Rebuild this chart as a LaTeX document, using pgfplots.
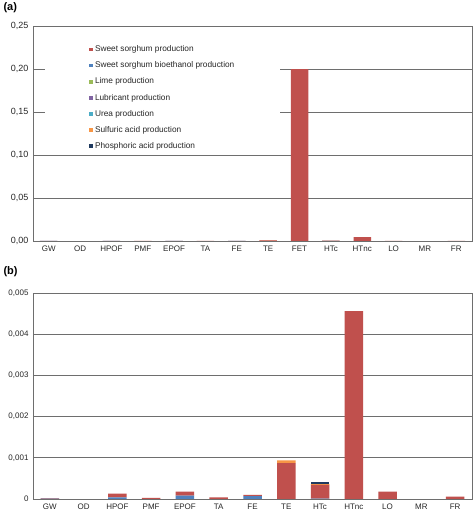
\documentclass[border=0pt]{standalone}
\usepackage{pgfplots}
\pgfplotsset{compat=1.18}
\usepackage{pgfplotstable}
\usepackage{fontspec}
\setmainfont{Liberation Sans}
\definecolor{cSor}{HTML}{C0504D}
\definecolor{cEth}{HTML}{4F81BD}
\definecolor{cLim}{HTML}{9BBB59}
\definecolor{cLub}{HTML}{8064A2}
\definecolor{cUre}{HTML}{4BACC6}
\definecolor{cSul}{HTML}{F79646}
\definecolor{cPho}{HTML}{1F3A5F}
\definecolor{gridc}{HTML}{6E6E6E}

% panel (a): GW OD HPOF PMF EPOF TA FE TE FET HTc HTnc LO MR FR
\pgfplotstableread{
x  eth      sor      lim      lub  ure  sul      pho
0  0.00001  0.00001  0        0    0    0        0
1  0        0        0        0    0    0        0
2  0.00004  0.00009  0        0    0    0        0
3  0        0.00003  0        0    0    0        0
4  0.00008  0.00010  0        0    0    0        0
5  0        0.00004  0        0    0    0        0
6  0.00008  0.00002  0        0    0    0        0
7  0        0.00087  0        0    0    0.00007  0
8  0        0.20000  0        0    0    0        0
9  0.00001  0.00033  0        0    0    0.00002  0.00005
10 0        0.00456  0        0    0    0        0
11 0        0.00018  0        0    0    0        0
12 0        0        0        0    0    0        0
13 0        0.00006  0        0    0    0        0
}\dataA
% panel (b): GW OD HPOF PMF EPOF TA FE TE HTc HTnc LO MR FR
\pgfplotstableread{
x  eth      sor      lim      lub  ure  sul      pho
0  0.00001  0.00001  0        0    0    0        0
1  0        0        0        0    0    0        0
2  0.00004  0.00009  0        0    0    0        0
3  0        0.00003  0        0    0    0        0
4  0.00008  0.00010  0        0    0    0        0
5  0        0.00004  0        0    0    0        0
6  0.00007  0.00003  0        0    0    0        0
7  0        0.00087  0        0    0    0.00007  0
8  0.00001  0.00033  0        0    0    0.00002  0.00005
9  0        0.00456  0        0    0    0        0
10 0        0.00018  0        0    0    0        0
11 0        0        0        0    0    0        0
12 0        0.00006  0        0    0    0        0
}\dataB

\pgfplotsset{
  panel/.style={
    ybar stacked,
    scale only axis,
    width=439pt,
    scaled y ticks=false,
    axis background/.style={fill=white},
    axis line style={draw=gridc, line width=0.8pt},
    x axis line style={draw=gray!40},
    xtick=data,
    xtick style={draw=none},
    ytick style={draw=none},
    ymajorgrids,
    major grid style={draw=gridc, line width=0.8pt},
    tick label style={font=\fontsize{8}{9.6}\selectfont, text=black!85},
    xticklabel style={yshift=-1.5pt},
    yticklabel style={xshift=-1pt},
    ymin=0,
    every axis plot/.append style={draw=none},
    legend image code/.code={\path[##1,draw=none] (0pt,-1.8pt) rectangle (3.6pt,1.8pt);},
  },
}

\begin{document}
\begin{tikzpicture}
\useasboundingbox (0,0) rectangle (474pt,-514pt);
\node[anchor=west, font=\bfseries\fontsize{11}{13}\selectfont] at (0pt,-8pt) {(a)};
\node[anchor=west, font=\bfseries\fontsize{11}{13}\selectfont] at (0pt,-272pt) {(b)};

\begin{axis}[panel,
  at={(33pt,-26pt)}, anchor=north west,
  height=215pt,
  xmin=-0.5, xmax=13.5,
  ymax=0.25,
  ytick={0,0.05,0.10,0.15,0.20,0.25},
  yticklabels={{0,00},{0,05},{0,10},{0,15},{0,20},{0,25}},
  yticklabel style={font=\fontsize{9}{10.8}\selectfont},
  xticklabels={GW,OD,HPOF,PMF,EPOF,TA,FE,TE,FET,HTc,HTnc,LO,MR,FR},
  bar width=17.5pt,
  legend style={
    at={(axis cs:-0.117,0.2310)}, anchor=north west,
    fill=white, draw=none,
    inner xsep=44pt, inner ysep=2pt,
    font=\fontsize{8.3}{10}\selectfont,
    text=black!85,
    row sep=6.2pt,
    nodes={inner sep=1.2pt},
  },
  legend cell align=left,
  legend columns=1,
  legend entries={\hspace{1pt}Sweet sorghum production,
    \hspace{1pt}Sweet sorghum bioethanol production,
    \hspace{1pt}Lime production,
    \hspace{1pt}Lubricant production,
    \hspace{1pt}Urea production,
    \hspace{1pt}Sulfuric acid production,
    \hspace{1pt}Phosphoric acid production},
]
\addlegendimage{fill=cSor}
\addlegendimage{fill=cEth}
\addlegendimage{fill=cLim}
\addlegendimage{fill=cLub}
\addlegendimage{fill=cUre}
\addlegendimage{fill=cSul}
\addlegendimage{fill=cPho}
\addplot[fill=cEth, forget plot] table[x=x,y=eth]{\dataA};
\addplot[fill=cSor, forget plot] table[x=x,y=sor]{\dataA};
\addplot[fill=cLim, forget plot] table[x=x,y=lim]{\dataA};
\addplot[fill=cLub, forget plot] table[x=x,y=lub]{\dataA};
\addplot[fill=cUre, forget plot] table[x=x,y=ure]{\dataA};
\addplot[fill=cSul, forget plot] table[x=x,y=sul]{\dataA};
\addplot[fill=cPho, forget plot] table[x=x,y=pho]{\dataA};
\end{axis}

\begin{axis}[panel,
  at={(33pt,-293pt)}, anchor=north west,
  height=206pt,
  xmin=-0.5, xmax=12.5,
  ymax=0.005,
  ytick={0,0.001,0.002,0.003,0.004,0.005},
  yticklabels={0,{0,001},{0,002},{0,003},{0,004},{0,005}},
  xticklabels={GW,OD,HPOF,PMF,EPOF,TA,FE,TE,HTc,HTnc,LO,MR,FR},
  bar width=18.5pt,
]
\addplot[fill=cEth] table[x=x,y=eth]{\dataB};
\addplot[fill=cSor] table[x=x,y=sor]{\dataB};
\addplot[fill=cLim] table[x=x,y=lim]{\dataB};
\addplot[fill=cLub] table[x=x,y=lub]{\dataB};
\addplot[fill=cUre] table[x=x,y=ure]{\dataB};
\addplot[fill=cSul] table[x=x,y=sul]{\dataB};
\addplot[fill=cPho] table[x=x,y=pho]{\dataB};
\end{axis}
\end{tikzpicture}
\end{document}
